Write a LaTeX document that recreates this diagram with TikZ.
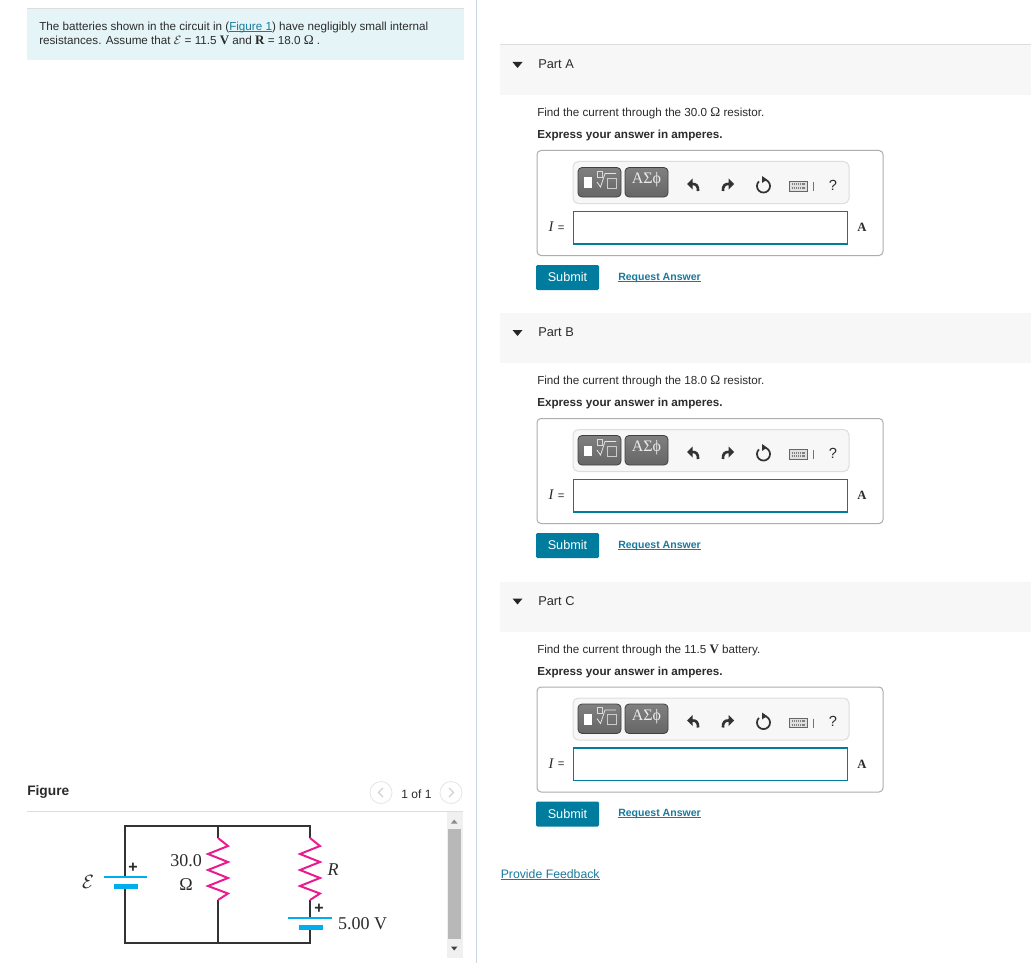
\documentclass[tikz,border=0pt]{standalone}
\usepackage{fontspec}
\setmainfont{Liberation Sans}
\newfontfamily\serifface{Liberation Serif}
\definecolor{panelblue}{HTML}{E5F5F7}
\definecolor{bandgray}{HTML}{F7F7F7}
\definecolor{rulegray}{HTML}{DDDDDD}
\definecolor{teal}{HTML}{007C9E}
\definecolor{linkblue}{HTML}{1A7A9E}
\definecolor{txt}{HTML}{2B2B2B}
\definecolor{sepblue}{HTML}{C9D6E4}
\definecolor{pinkres}{HTML}{EC1C8E}
\definecolor{cyanbat}{HTML}{00AEEF}
\definecolor{wire}{HTML}{333333}
\tikzset{
  label/.style={inner sep=0pt,anchor=base west,text=txt,font=\fontsize{8.75}{11}\selectfont},
  boldlabel/.style={label,font=\fontsize{8.75}{11}\selectfont\bfseries},
  circ/.style={inner sep=0pt,text=txt,font=\fontsize{13.5}{15}\selectfont\serifface},
  wireline/.style={draw=wire,line width=1.7pt,line join=miter},
  resline/.style={draw=pinkres,line width=1.5pt,line join=miter},
  thinplate/.style={draw=cyanbat,line width=1.4pt},
  thickplate/.style={draw=cyanbat,line width=3.6pt},
  toolbtn/.style={rounded corners=3pt,draw=black!75,line width=.6pt,top color=black!50,bottom color=black!60},
  pagerbtn/.style={inner sep=0pt,circle,draw=black!10,line width=.6pt,minimum size=16.5pt},
  chev/.style={draw=black!18,line width=1pt}
}
\newcommand{\mathsym}[1]{{\fontsize{9.75}{11}\selectfont\serifface\bfseries #1}}
\newcommand{\ohmsym}{{\fontsize{10}{11}\selectfont\serifface Ω}}
\newcommand{\ulink}[1]{\leavevmode\setbox0\hbox{#1}\rlap{\copy0}\rule[-1.1pt]{\wd0}{0.55pt}}
\newcommand{\partblock}[4]{%
\begin{scope}[shift={(0,#2)}]
  \fill[bandgray] (500,45) rectangle (1031,95);
  \fill[black!85] (512.5,62) -- (522.5,62) -- (517.5,68) -- cycle;
  \node[label,font=\fontsize{9.6}{11}\selectfont] (#1head) at (538,68.7) {Part #3};
  \node[label] (#1find) at (537,116.5) {#4};
  \node[boldlabel] (#1expr) at (537,138.5) {Express your answer in amperes.};
  \draw[black!32,line width=.75pt,rounded corners=3pt] (537,150.5) rectangle (883,255.5);
  \draw[rulegray,fill=bandgray,line width=.75pt,rounded corners=4pt] (573,161.5) rectangle (849,203.5);
  \path[toolbtn] (578,167.5) rectangle (621,197);
  \path[toolbtn] (625,167.5) rectangle (668,197);
  \fill[white] (584,177.5) rectangle (592,188);
  \draw[black!15,line width=.5pt] (597,171) rectangle (602,177);
  \draw[black!10,line width=.6pt] (597,182) -- (600.5,187) -- (605,173.5) -- (616,173.5);
  \draw[black!20,line width=.5pt] (607,178) rectangle (616,188);
  \node[inner sep=0pt,text=white!92!black,font=\fontsize{12}{13}\selectfont\serifface] (#1greek) at (646.5,180) {ΑΣϕ};
  \fill[black!80] (687,184) -- (692.5,178.5) -- (692.5,189.5) -- cycle;
  \draw[black!80,line width=2pt] (692,184) .. controls (696,183.5) and (698.5,186) .. (698,191);
  \fill[black!80] (734,184) -- (728.5,178.5) -- (728.5,189.5) -- cycle;
  \draw[black!80,line width=2pt] (729,184) .. controls (725,183.5) and (722.5,186) .. (723,191);
  \draw[black!80,line width=1.3pt] (763.5,179.5) arc[start angle=90,end angle=-225,radius=4.9pt];
  \fill[black!80] (767,179.5) -- (762,176) -- (762,183) -- cycle;
  \draw[black!60,fill=black!12,line width=.6pt] (789.5,181.5) rectangle (807,191);
  \draw[black!50,line width=1.5pt,dash pattern=on 1pt off .6pt] (791.5,184.5) -- (805,184.5);
  \draw[black!50,line width=1.5pt,dash pattern=on 1pt off .6pt] (791.5,188) -- (805,188);
  \draw[black!55,line width=.5pt] (813,182) -- (813,191);
  \node[inner sep=0pt,text=txt,font=\fontsize{11}{12}\selectfont] (#1help) at (833,185) {?};
  \node[inner sep=0pt,anchor=center,text=txt,font=\fontsize{11}{12}\selectfont\serifface\itshape] (#1var) at (551,227) {I};
  \node[label,font=\fontsize{8.5}{10}\selectfont] (#1eq) at (557.5,231) {=};
  \draw[teal,fill=white,line width=.9pt] (573.5,211.5) rectangle (847.5,244);
  \node[inner sep=0pt,text=txt,font=\fontsize{9.5}{11}\selectfont\serifface\bfseries] (#1unit) at (862,227.5) {A};
  \node[inner sep=0pt,fill=teal,rounded corners=1pt,minimum width=47.25pt,minimum height=18.75pt,text=white,font=\fontsize{9.5}{11}\selectfont] (#1submit) at (567.5,277.5) {\raisebox{.6pt}{Submit}};
  \node[label,text=linkblue,font=\fontsize{7.9}{10}\selectfont\bfseries] (#1req) at (618,280) {\ulink{Request Answer}};
\end{scope}}
\begin{document}
\begin{tikzpicture}[x=0.75pt,y=-0.75pt]
\useasboundingbox (0,0) rectangle (1031,963);
\fill[white] (0,0) rectangle (1031,963);
\fill[panelblue] (27,9) rectangle (464,60);
\draw[rulegray,line width=.5pt] (27,8.5) -- (464,8.5);
\node[inner sep=0pt,anchor=north west,align=left,text=txt,font=\fontsize{8.75}{10.5}\selectfont] (intro) at (39,21.5) {The batteries shown in the circuit in (\textcolor{linkblue}{\ulink{Figure 1}}) have negligibly small internal\\resistances. Assume that $\mathcal{E}$ = 11.5 \mathsym{V} and \mathsym{R} = 18.0 \ohmsym{} .};
\draw[sepblue,line width=1pt] (476.5,0) -- (476.5,963);
\node[boldlabel,font=\fontsize{10.3}{12}\selectfont\bfseries] (figtitle) at (27,795) {Figure};
\draw[rulegray,line width=.75pt] (27,811.5) -- (463,811.5);
\node[pagerbtn] (prevbtn) at (381,792.5) {};
\node[pagerbtn] (nextbtn) at (451,792.5) {};
\draw[chev] (383,788) -- (378.5,792.5) -- (383,797);
\draw[chev] (449,788) -- (453.5,792.5) -- (449,797);
\node[inner sep=0pt,text=txt,font=\fontsize{9}{11}\selectfont] (pager) at (416.5,794) {1 of 1};
\fill[black!6] (447,812) rectangle (463,958);
\fill[black!28] (448,829) rectangle (461,939);
\fill[black!45] (451,823.5) -- (457.5,823.5) -- (454.2,819.5) -- cycle;
\fill[black!75] (451,946.5) -- (457.5,946.5) -- (454.2,950.5) -- cycle;
\coordinate (tl) at (125,826);
\coordinate (tm) at (218,826);
\coordinate (tr) at (310,826);
\coordinate (bl) at (125,943);
\coordinate (bm) at (218,943);
\coordinate (br) at (310,943);
\coordinate (lbtop) at (125,877);
\coordinate (lbbot) at (125,886);
\coordinate (mrtop) at (218,838);
\coordinate (mrbot) at (218,900);
\coordinate (rrtop) at (310,838);
\coordinate (rrbot) at (310,900);
\coordinate (rbtop) at (310,918);
\coordinate (rbbot) at (310,928);
\path[wireline] (lbtop) -- (tl) -- (tr) -- (rrtop);
\path[wireline] (tm) -- (mrtop);
\path[wireline] (mrbot) -- (bm);
\path[wireline] (rrbot) -- (rbtop);
\path[wireline] (rbbot) -- (br) -- (bl) -- (lbbot);
\foreach \c in {218,310}{
  \path[resline] (\c,838) -- (\c+10,846) -- (\c-10,854) -- (\c+10,862) -- (\c-10,870) -- (\c+10,878) -- (\c-10,886) -- (\c+10,893.5) -- (\c,900);
}
\draw[thinplate] (103.5,877) -- (146.5,877);
\draw[thickplate] (114,886.3) -- (138,886.3);
\draw[thinplate] (288,918) -- (331.5,918);
\draw[thickplate] (299,927.7) -- (323,927.7);
\node[circ,font=\fontsize{12}{13}\selectfont\bfseries] (lplus) at (133,868) {+};
\node[circ,font=\fontsize{12}{13}\selectfont\bfseries] (rplus) at (319,909) {+};
\node[circ,font=\fontsize{15}{16}\selectfont] (emf) at (88,881.5) {$\mathcal{E}$};
\node[circ] (r30) at (186,861) {30.0};
\node[circ] (rohm) at (186,885) {Ω};
\node[circ,font=\fontsize{13.5}{15}\selectfont\serifface\itshape] (rname) at (333,870) {R};
\node[circ] (v5) at (362.5,923.5) {5.00 V};
\partblock{a}{0}{A}{Find the current through the 30.0 \ohmsym{} resistor.}
\draw[rulegray,line width=.5pt] (500,44.5) -- (1031,44.5);
\partblock{b}{268}{B}{Find the current through the 18.0 \ohmsym{} resistor.}
\partblock{c}{536.5}{C}{Find the current through the 11.5 \mathsym{V} battery.}
\node[label,text=linkblue,font=\fontsize{9.2}{11}\selectfont] (feedback) at (500.5,878.5) {\ulink{Provide Feedback}};
\end{tikzpicture}
\end{document}
